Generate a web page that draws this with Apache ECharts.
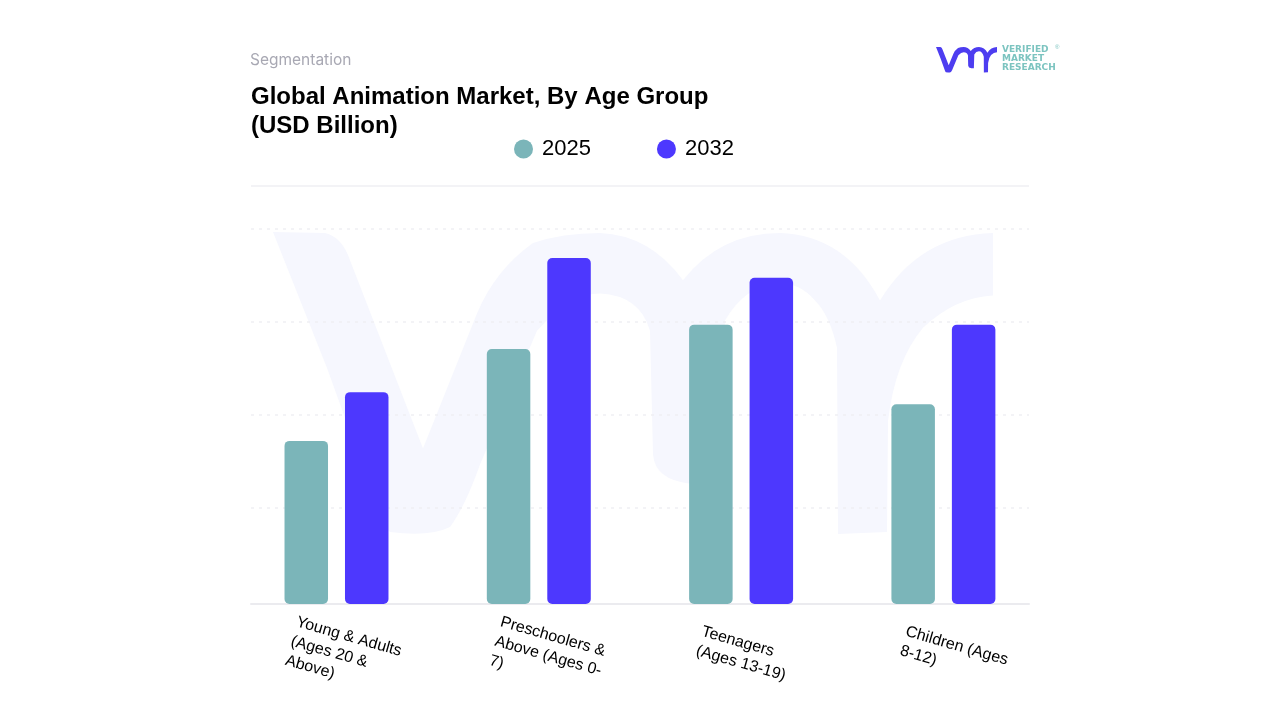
<!DOCTYPE html>
<html><head><meta charset="utf-8">
<style>html,body{margin:0;padding:0;background:#fff}#c{width:1280px;height:720px}</style>
<script src="https://cdn.jsdelivr.net/npm/echarts@6/dist/echarts.min.js"></script>
</head><body><div id="c"></div>
<script>
const categories = ['Young & Adults\n(Ages 20 &\nAbove)', 'Preschoolers &\nAbove (Ages 0-\n7)', 'Teenagers\n(Ages 13-19)', 'Children (Ages\n8-12)'];
const values2025 = [1.74, 2.72, 2.98, 2.13];
const values2032 = [2.26, 3.69, 3.48, 2.98];
const seriesNames = ['2025', '2032'];
const titleText = 'Global Animation Market, By Age Group\n(USD Billion)';
const eyebrow = 'Segmentation';

const logoPath = 'M273 232 L325 233 Q342 237 350 260 L423 447 L477 313 Q495 270 533 243 Q562 233 600 233 Q650 235 683 280 Q720 233 780 233 Q845 235 880 300 Q920 235 993 233 L993 295 Q955 297 923 327 Q895 360 888 420 L887 530 L838 532 L837 347 Q830 315 815 300 Q800 283 780 283 Q745 285 725 320 L720 482 L690 482 Q655 478 653 453 L650 330 Q640 295 600 293 Q570 293 537 330 L480 463 Q465 505 450 525 Q430 535 390 530 Q384 525 380 513 L327 367 Z';
const sans = '"Liberation Sans", Arial, sans-serif';
const teal = '#7bb5b9', blue = '#4d38fe';
const labelOffsets = [0, 0, 9, 10];

function logoSeries(x, y, w, h, fill, z){
  return {type:'custom',coordinateSystem:'none',silent:true,z:z,data:[0],
    renderItem:()=>({type:'path',shape:{pathData:logoPath,layout:'cover',x:x,y:y,width:w,height:h},style:{fill:fill}})};
}

const chart = echarts.init(document.getElementById('c'), null, {renderer:'canvas'});
chart.setOption({
  animation:false,
  backgroundColor:'#fff',
  title:[
    {text:eyebrow,left:245,top:47,textStyle:{fontFamily:'Inter',fontSize:15.5,fontWeight:400,color:'#a8a8b3'}},
    {text:titleText,left:246,top:78,textStyle:{fontFamily:sans,fontSize:24,fontWeight:'bold',color:'#000',lineHeight:29}}
  ],
  legend:{left:509,top:133,icon:'circle',itemWidth:19,itemHeight:19,itemGap:66,data:seriesNames,
    textStyle:{fontFamily:sans,fontSize:22,color:'#000',padding:[0,0,0,4]}},
  grid:[
    {left:235.35,width:809.2,top:229,height:375},
    {left:251,width:778,top:229,height:372},
    {left:189.15,width:816,top:229,height:375}
  ],
  xAxis:[
    {gridIndex:0,type:'category',data:categories,axisLine:{show:false},axisTick:{show:false},axisLabel:{show:false}},
    {gridIndex:1,type:'category',data:categories,offset:3,axisLine:{show:true,onZero:false,lineStyle:{color:'#ebebef',width:2}},axisTick:{show:false},axisLabel:{show:false}},
    {gridIndex:2,type:'category',data:categories.map((c,i)=>({value:c,textStyle:{padding:[labelOffsets[i],0,0,0]}})),axisLine:{show:false},axisTick:{show:false},
      axisLabel:{show:true,interval:0,rotate:-16,margin:37,align:'left',verticalAlign:'top',fontFamily:sans,fontSize:16,lineHeight:20,color:'#000',hideOverlap:false}}
  ],
  yAxis:[
    {gridIndex:0,type:'value',min:0,max:4,interval:1,show:false},
    {gridIndex:1,type:'value',min:0,max:4,interval:1,axisLine:{show:false},axisTick:{show:false},axisLabel:{show:false},
      splitLine:{show:true,showMinLine:false,lineStyle:{color:'#efeff3',type:[3,5],width:1.5}}},
    {gridIndex:2,type:'value',min:0,max:4,interval:1,show:false}
  ],
  series:[
    logoSeries(273,232,720,302,'#f6f7fe',-1),
    logoSeries(936,47,61,25.5,'#4d3df0',5),
    {name:seriesNames[0],type:'bar',xAxisIndex:0,yAxisIndex:0,data:values2025,barWidth:43.5,barGap:'39%',itemStyle:{color:teal,borderRadius:5}},
    {name:seriesNames[1],type:'bar',xAxisIndex:0,yAxisIndex:0,data:values2032,barWidth:43.5,barGap:'39%',itemStyle:{color:blue,borderRadius:5}}
  ],
  graphic:[
    {type:'line',z:-1,shape:{x1:251,y1:186,x2:1029,y2:186},style:{stroke:'#f3f3f6',lineWidth:2}},
    {type:'text',x:1002,y:45.5,style:{text:'VERIFIED',fontFamily:'DejaVu Sans',fontWeight:'bold',fontSize:9,fill:'#7cc4c0'}},
    {type:'text',x:1002,y:54.5,style:{text:'MARKET',fontFamily:'DejaVu Sans',fontWeight:'bold',fontSize:9,fill:'#7cc4c0'}},
    {type:'text',x:1002,y:63.5,style:{text:'RESEARCH',fontFamily:'DejaVu Sans',fontWeight:'bold',fontSize:9,fill:'#7cc4c0'}},
    {type:'text',x:1055,y:44,style:{text:'®',fontFamily:sans,fontSize:6,fill:'#7cc4c0'}}
  ]
});
</script></body></html>
